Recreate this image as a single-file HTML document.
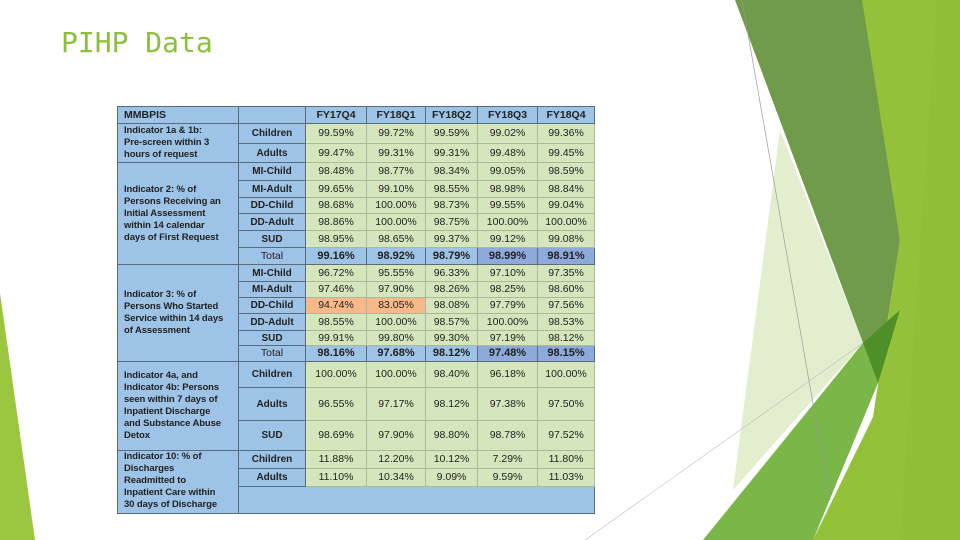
<!DOCTYPE html>
<html><head><meta charset="utf-8">
<style>
html,body{margin:0;padding:0;}
body{width:960px;height:540px;position:relative;overflow:hidden;background:#fff;font-family:"Liberation Sans",sans-serif;}
#title{position:absolute;left:61px;top:26px;font-family:"DejaVu Sans Mono","Liberation Mono",monospace;font-size:28px;color:#8dbf3f;}
#deco{position:absolute;left:0;top:0;}
table{position:absolute;left:117px;top:106px;border-collapse:collapse;table-layout:fixed;width:477px;font-size:10.5px;color:#222;}
td{border:1px solid #5a6b7a;padding:0;text-align:center;overflow:hidden;white-space:nowrap;line-height:11px;}
td.lab{background:#9dc3e6;text-align:left;font-weight:bold;padding-left:6px;font-size:9.5px;line-height:12px;letter-spacing:-0.1px;}
td.sub{background:#9dc3e6;font-weight:bold;font-size:10px;}
td.hd{background:#9dc3e6;font-weight:bold;font-size:10.5px;}
td.d{background:#d5e5bc;border-color:#a9b99a;}
td.o{background:#f7b98a;}
td.t{background:#9dc3e6;font-weight:bold;font-size:11px;}
td.t2{background:#8eaadb;font-weight:bold;font-size:11px;}
td.tl{background:#9dc3e6;font-size:10.5px;}
</style></head><body>
<svg id="deco" width="960" height="540">
<polygon points="0,293 35,540 0,540" fill="#9bc63f"/>
<polygon points="861,0 960,0 960,540 813,540 873,417 900,240" fill="#93c13a"/>
<polygon points="937,0 960,0 960,540 900,540" fill="#8cbd35" opacity="0.6"/>
<polygon points="735,0 862,0 900,240 878,383 863,343" fill="#6f9b4a"/>
<polygon points="780,130 863,343 733,490" fill="#e3eecf"/>
<polygon points="703,540 863,343 878,383 813,540" fill="#7ab648"/>
<polygon points="863,343 900,310 878,383" fill="#4f8f28"/>
<line x1="742" y1="0" x2="830" y2="500" stroke="#999" stroke-width="0.7"/>
<line x1="585" y1="540" x2="863" y2="343" stroke="#bbb" stroke-width="0.6"/>
</svg>
<div id="title">PIHP Data</div>
<table>
<colgroup><col style="width:121px"><col style="width:67px"><col style="width:61px"><col style="width:59px"><col style="width:52px"><col style="width:60px"><col style="width:57px"></colgroup>
<tr style="height:17px"><td class="hd" style="text-align:left;padding-left:6px">MMBPIS</td><td class="hd"></td><td class="hd">FY17Q4</td><td class="hd">FY18Q1</td><td class="hd">FY18Q2</td><td class="hd">FY18Q3</td><td class="hd">FY18Q4</td></tr>
<tr style="height:20px"><td class="lab" rowspan="2">Indicator 1a &amp; 1b:<br>Pre-screen within 3<br>hours of request</td><td class="sub">Children</td><td class="d">99.59%</td><td class="d">99.72%</td><td class="d">99.59%</td><td class="d">99.02%</td><td class="d">99.36%</td></tr>
<tr style="height:19px"><td class="sub">Adults</td><td class="d">99.47%</td><td class="d">99.31%</td><td class="d">99.31%</td><td class="d">99.48%</td><td class="d">99.45%</td></tr>
<tr style="height:18px"><td class="lab" rowspan="6">Indicator 2: % of<br>Persons Receiving an<br>Initial Assessment<br>within 14 calendar<br>days of First Request</td><td class="sub">MI-Child</td><td class="d">98.48%</td><td class="d">98.77%</td><td class="d">98.34%</td><td class="d">99.05%</td><td class="d">98.59%</td></tr>
<tr style="height:17px"><td class="sub">MI-Adult</td><td class="d">99.65%</td><td class="d">99.10%</td><td class="d">98.55%</td><td class="d">98.98%</td><td class="d">98.84%</td></tr>
<tr style="height:16px"><td class="sub">DD-Child</td><td class="d">98.68%</td><td class="d">100.00%</td><td class="d">98.73%</td><td class="d">99.55%</td><td class="d">99.04%</td></tr>
<tr style="height:17px"><td class="sub">DD-Adult</td><td class="d">98.86%</td><td class="d">100.00%</td><td class="d">98.75%</td><td class="d">100.00%</td><td class="d">100.00%</td></tr>
<tr style="height:17px"><td class="sub">SUD</td><td class="d">98.95%</td><td class="d">98.65%</td><td class="d">99.37%</td><td class="d">99.12%</td><td class="d">99.08%</td></tr>
<tr style="height:17px"><td class="tl">Total</td><td class="t">99.16%</td><td class="t">98.92%</td><td class="t">98.79%</td><td class="t2">98.99%</td><td class="t2">98.91%</td></tr>
<tr style="height:17px"><td class="lab" rowspan="6">Indicator 3: % of<br>Persons Who Started<br>Service within 14 days<br>of Assessment</td><td class="sub">MI-Child</td><td class="d">96.72%</td><td class="d">95.55%</td><td class="d">96.33%</td><td class="d">97.10%</td><td class="d">97.35%</td></tr>
<tr style="height:16px"><td class="sub">MI-Adult</td><td class="d">97.46%</td><td class="d">97.90%</td><td class="d">98.26%</td><td class="d">98.25%</td><td class="d">98.60%</td></tr>
<tr style="height:16px"><td class="sub">DD-Child</td><td class="d o">94.74%</td><td class="d o">83.05%</td><td class="d">98.08%</td><td class="d">97.79%</td><td class="d">97.56%</td></tr>
<tr style="height:17px"><td class="sub">DD-Adult</td><td class="d">98.55%</td><td class="d">100.00%</td><td class="d">98.57%</td><td class="d">100.00%</td><td class="d">98.53%</td></tr>
<tr style="height:15px"><td class="sub">SUD</td><td class="d">99.91%</td><td class="d">99.80%</td><td class="d">99.30%</td><td class="d">97.19%</td><td class="d">98.12%</td></tr>
<tr style="height:16px"><td class="tl">Total</td><td class="t">98.16%</td><td class="t">97.68%</td><td class="t">98.12%</td><td class="t2">97.48%</td><td class="t2">98.15%</td></tr>
<tr style="height:26px"><td class="lab" rowspan="3">Indicator 4a, and<br>Indicator 4b: Persons<br>seen within 7 days of<br>Inpatient Discharge<br>and Substance Abuse<br>Detox</td><td class="sub">Children</td><td class="d">100.00%</td><td class="d">100.00%</td><td class="d">98.40%</td><td class="d">96.18%</td><td class="d">100.00%</td></tr>
<tr style="height:33px"><td class="sub">Adults</td><td class="d">96.55%</td><td class="d">97.17%</td><td class="d">98.12%</td><td class="d">97.38%</td><td class="d">97.50%</td></tr>
<tr style="height:30px"><td class="sub">SUD</td><td class="d">98.69%</td><td class="d">97.90%</td><td class="d">98.80%</td><td class="d">98.78%</td><td class="d">97.52%</td></tr>
<tr style="height:18px"><td class="lab" rowspan="3" style="vertical-align:top">Indicator 10: % of<br>Discharges<br>Readmitted to<br>Inpatient Care within<br>30 days of Discharge</td><td class="sub">Children</td><td class="d">11.88%</td><td class="d">12.20%</td><td class="d">10.12%</td><td class="d">7.29%</td><td class="d">11.80%</td></tr>
<tr style="height:18px"><td class="sub">Adults</td><td class="d">11.10%</td><td class="d">10.34%</td><td class="d">9.09%</td><td class="d">9.59%</td><td class="d">11.03%</td></tr>
<tr style="height:27px"><td class="sub" colspan="6"></td></tr>
</table>
</body></html>
